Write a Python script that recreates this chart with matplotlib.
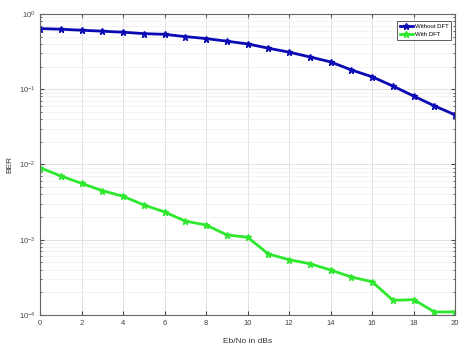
#!/usr/bin/env python3

import matplotlib
import matplotlib.pyplot as plt
from matplotlib.ticker import LogLocator, NullFormatter
matplotlib.use('Agg')

ebno = list(range(0, 21))
ber_without_dft = [0.638, 0.626, 0.607, 0.589, 0.571, 0.547, 0.535, 0.499, 0.470,
                   0.434, 0.399, 0.350, 0.310, 0.268, 0.230, 0.180, 0.146, 0.110,
                   0.081, 0.060, 0.0455]
ber_with_dft = [0.00906, 0.00703, 0.00562, 0.00449, 0.00378, 0.00290, 0.00234,
                0.00177, 0.00157, 0.00116, 0.00108, 0.000647, 0.000543, 0.000481,
                0.000396, 0.000320, 0.000277, 0.000157, 0.000160, 0.000110, 0.000110]
labels = ['Without DFT', 'With DFT']


def main():
    plt.rcParams['font.family'] = ['Liberation Sans', 'DejaVu Sans']
    fig = plt.figure(figsize=(4.74, 3.56), dpi=100)
    ax = fig.add_axes([0.0844, 0.115, 0.876, 0.846])

    ax.semilogy(ebno, ber_without_dft, '-*', color='#0a0ab4', linewidth=2,
                markersize=5, label=labels[0])
    ax.semilogy(ebno, ber_with_dft, '-*', color='#2ee82e', linewidth=2,
                markersize=5, label=labels[1])

    ax.set_xlim(0, 20)
    ax.set_ylim(1e-4, 1)
    ax.set_xticks(range(0, 21, 2))
    ax.yaxis.set_major_locator(LogLocator(base=10, numticks=10))
    ax.yaxis.set_minor_locator(LogLocator(base=10, subs=range(2, 10), numticks=50))
    ax.yaxis.set_minor_formatter(NullFormatter())

    ax.grid(True, which='major', color='#dddddd', linewidth=0.6)
    ax.grid(True, which='minor', color='#eeeeee', linewidth=0.5)
    ax.tick_params(which='both', direction='in', top=True, right=True,
                   labelsize=5.5, colors='#444444', length=3)
    ax.tick_params(which='minor', length=1.5)
    for s in ax.spines.values():
        s.set_color('#666666')
        s.set_linewidth(0.8)

    ax.set_xlabel('Eb/No in dBs', fontsize=6, color='#333333', labelpad=8)
    ax.set_ylabel('BER', fontsize=6, color='#333333')

    leg = ax.legend(loc='upper right', fontsize=4.3, handlelength=2.2,
                    handletextpad=0.3, labelspacing=0.6,
                    fancybox=False, framealpha=1, borderpad=0.45,
                    borderaxespad=0, bbox_to_anchor=(0.99, 0.977))
    leg.get_frame().set_edgecolor('#444444')
    leg.get_frame().set_linewidth(0.6)

    fig.savefig('out.png', dpi=100)


if __name__ == "__main__":
    main()
